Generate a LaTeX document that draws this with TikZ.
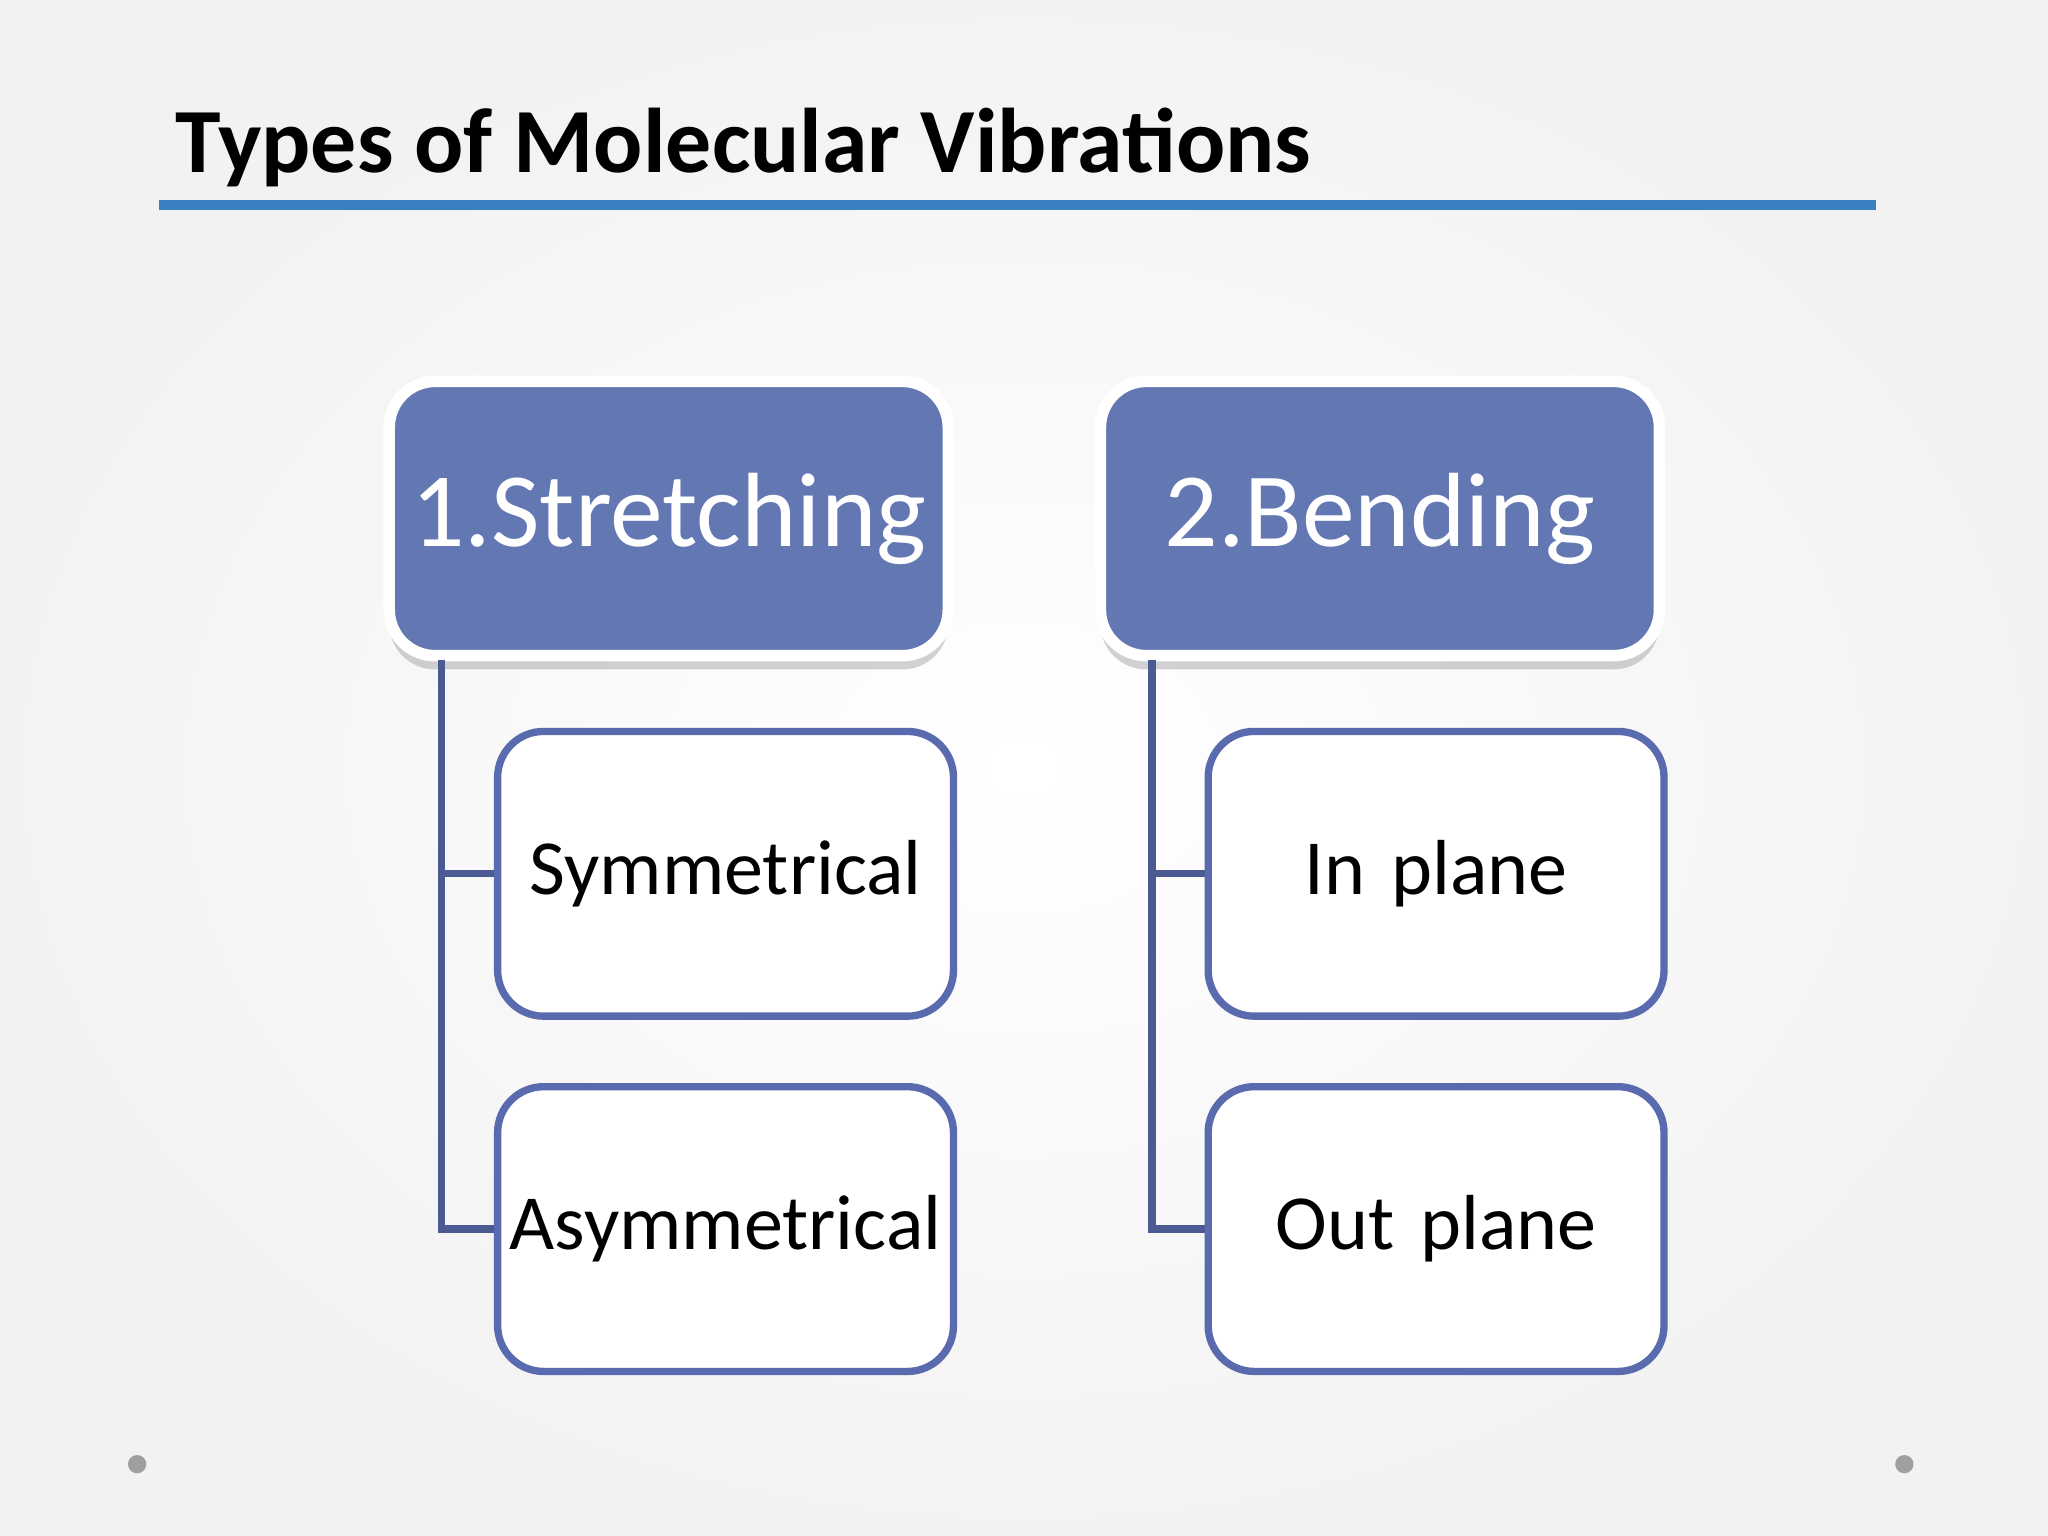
\documentclass[tikz,border=0pt]{standalone}
\usepackage{fontspec}
\setmainfont{Carlito}
\usetikzlibrary{positioning,shadows}
\definecolor{headblue}{HTML}{6377B3}
\definecolor{edgeblue}{HTML}{5A6AAE}
\definecolor{ruleblue}{HTML}{3A7FC0}
\tikzset{
  head/.style={ % top category box
    draw=white, line width=2.5pt, rounded corners=10pt, fill=headblue,
    minimum width=4.28cm, minimum height=2.1cm, text=white, inner sep=0pt,
    text width=4.2cm, align=center,
    font=\fontsize{23}{27}\selectfont,
    drop shadow={shadow xshift=0pt, shadow yshift=-3pt, opacity=0.35}
  },
  leaf/.style={ % sub type box
    draw=edgeblue, line width=1.6pt, rounded corners=10pt, fill=white,
    minimum width=3.49cm, minimum height=2.18cm, text=black, inner sep=0pt,
    text width=3.45cm, align=center,
    font=\fontsize{17}{20}\selectfont
  },
  link/.style={draw=edgeblue!85!black, line width=1.6pt}
}
\begin{document}
\begin{tikzpicture}
  \shade[inner color=white, outer color=gray!10] (0,0) rectangle (15.68,-11.76);
  \useasboundingbox (0,0) rectangle (15.68,-11.76);

  \node[anchor=base west, font=\bfseries\fontsize{20}{24}\selectfont] (title) at (1.22,-1.32) {Types of Molecular Vibrations};
  \draw[ruleblue, line width=2pt] (1.22,-1.57) -- (14.36,-1.57);

  \node[head] (stretch) at (5.12,-3.97) {1.Stretching};
  \node[head] (bend) at (10.565,-3.97) {2.Bending};

  \node[leaf] (sym) at (5.555,-6.69) {Symmetrical};
  \node[leaf] (asym) at (5.555,-9.41) {Asymmetrical};
  \node[leaf] (inpl) at (10.995,-6.69) {In plane};
  \node[leaf] (outpl) at (10.995,-9.41) {Out plane};

  % tree connectors
  \coordinate (sroot) at (3.38,-5.05);
  \coordinate (broot) at (8.82,-5.05);
  \draw[link] (sroot) |- (sym.west);
  \draw[link] (sroot) |- (asym.west);
  \draw[link] (broot) |- (inpl.west);
  \draw[link] (broot) |- (outpl.west);

  \fill[gray!75] (1.05,-11.21) circle (0.07);
  \fill[gray!75] (14.58,-11.21) circle (0.07);
\end{tikzpicture}
\end{document}
